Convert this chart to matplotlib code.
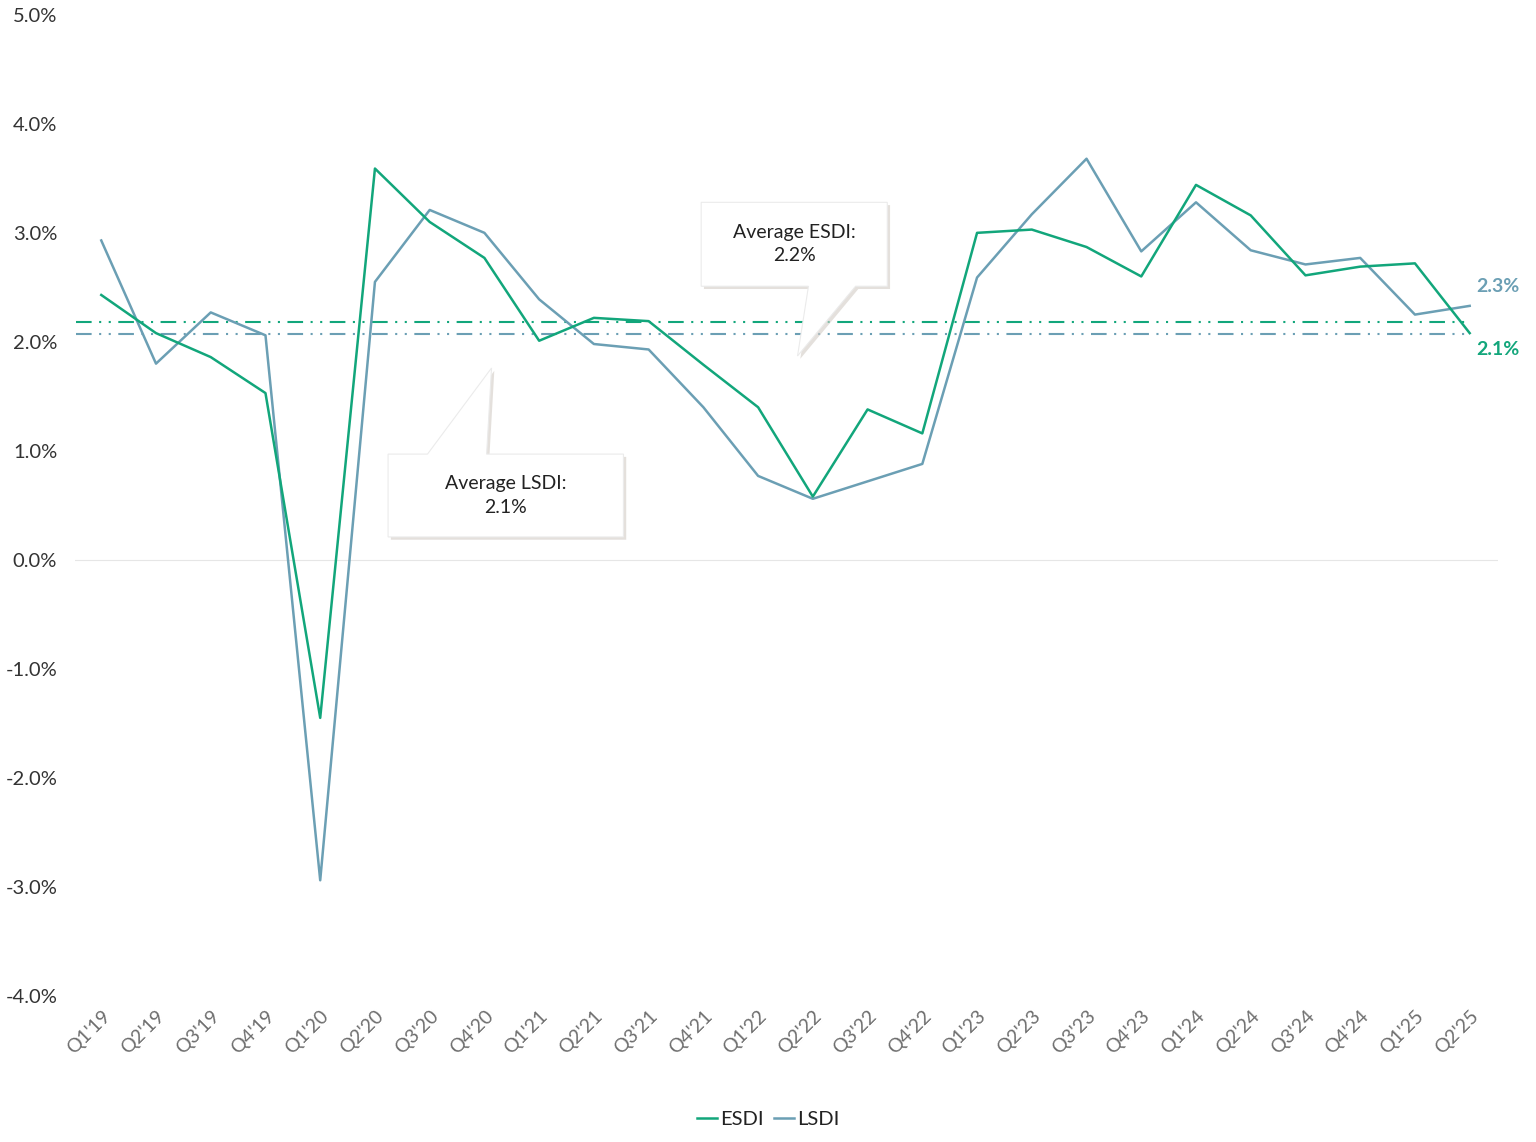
import numpy as np
import matplotlib.pyplot as plt
import matplotlib.patheffects as pe
from matplotlib.patches import Polygon

# quarters
quarters = ["Q1'19", "Q2'19", "Q3'19", "Q4'19", "Q1'20", "Q2'20", "Q3'20", "Q4'20",
            "Q1'21", "Q2'21", "Q3'21", "Q4'21", "Q1'22", "Q2'22", "Q3'22", "Q4'22",
            "Q1'23", "Q2'23", "Q3'23", "Q4'23", "Q1'24", "Q2'24", "Q3'24", "Q4'24",
            "Q1'25", "Q2'25"]

# values in %
esdi = [2.43, 2.08, 1.86, 1.53, -1.45, 3.59, 3.10, 2.77, 2.01, 2.22, 2.19, 1.79, 1.40,
        0.58, 1.38, 1.16, 3.00, 3.03, 2.87, 2.60, 3.44, 3.16, 2.61, 2.69, 2.72, 2.08]
lsdi = [2.93, 1.80, 2.27, 2.06, -2.94, 2.55, 3.21, 3.00, 2.39, 1.98, 1.93, 1.40, 0.77,
        0.56, 0.72, 0.88, 2.59, 3.17, 3.68, 2.83, 3.28, 2.84, 2.71, 2.77, 2.25, 2.33]
avg_esdi = 2.18
avg_lsdi = 2.07

green = '#12a67b'
blue = '#6b9fb4'

plt.rcParams['font.family'] = ['Lato', 'DejaVu Sans']

fig = plt.figure(figsize=(15.36, 11.42), dpi=100)
ax = fig.add_axes([0.049, 0.128, 0.926, 0.859])

x = np.arange(len(quarters))
ax.plot(x, esdi, color=green, lw=1.8, label='ESDI', zorder=4)
ax.plot(x, lsdi, color=blue, lw=1.8, label='LSDI', zorder=3)

# average lines (dash-dot-dot)
dd = (0, (7.5, 3.6, 1, 3.6, 1, 3.6))
ax.plot([x[0] - 0.47, x[-1]], [avg_esdi, avg_esdi], color=green, lw=1.5, linestyle=dd, zorder=2)
ax.plot([x[0] - 0.47, x[-1]], [avg_lsdi, avg_lsdi], color=blue, lw=1.5, linestyle=dd, zorder=2)

ax.axhline(0, color='#e6e6e6', lw=0.8, zorder=1)

ax.set_xlim(-0.475, 25.51)
ax.set_ylim(-4, 5)
ax.set_yticks(np.arange(-4, 5.1, 1))
ax.set_yticklabels([f'{v:.1f}%' for v in np.arange(-4, 5.1, 1)], fontsize=14.5, color='#333333')
ax.set_xticks(x)
ax.set_xticklabels(quarters, rotation=45, ha='right', rotation_mode='anchor',
                   fontsize=14, color='#6e6e6e')
ax.tick_params(axis='y', length=0, pad=13)
ax.tick_params(axis='x', length=0, pad=8)
for s in ax.spines.values():
    s.set_visible(False)

# callouts
shadow = [pe.SimplePatchShadow(offset=(2, -2), shadow_rgbFace='#d2ccc6', alpha=0.6), pe.Normal()]
esdi_box = [(10.96, 3.28), (14.36, 3.28), (14.36, 2.51), (13.78, 2.51), (12.72, 1.87),
            (12.92, 2.51), (10.96, 2.51)]
lsdi_box = [(5.24, 0.97), (5.96, 0.97), (7.13, 1.76), (7.04, 0.97), (9.54, 0.97),
            (9.54, 0.21), (5.24, 0.21)]
for pts in (esdi_box, lsdi_box):
    p = Polygon(pts, closed=True, facecolor='white', edgecolor='#ebebeb', lw=0.8,
                zorder=6, path_effects=shadow)
    ax.add_patch(p)
ax.text(12.66, 2.895, 'Average ESDI:\n2.2%', ha='center', va='center', fontsize=14,
        color='#222222', linespacing=1.45, zorder=7)
ax.text(7.39, 0.59, 'Average LSDI:\n2.1%', ha='center', va='center', fontsize=14,
        color='#222222', linespacing=1.45, zorder=7)

# end labels
ax.annotate(f'{lsdi[-1]:.1f}%', (x[-1], lsdi[-1]), xytext=(5, 14), textcoords='offset points',
            ha='left', va='center', fontsize=14, fontweight='bold', color=blue,
            annotation_clip=False)
ax.annotate(f'{esdi[-1]:.1f}%', (x[-1], esdi[-1]), xytext=(5, -11.5), textcoords='offset points',
            ha='left', va='center', fontsize=14, fontweight='bold', color=green,
            annotation_clip=False)

fig.legend(loc='lower center', bbox_to_anchor=(0.5, -0.004), ncol=2, frameon=False,
           fontsize=14.5, handlelength=1.0, handletextpad=0.15, columnspacing=0.5,
           labelcolor='#222222')

fig.savefig('out.png', dpi=100)
